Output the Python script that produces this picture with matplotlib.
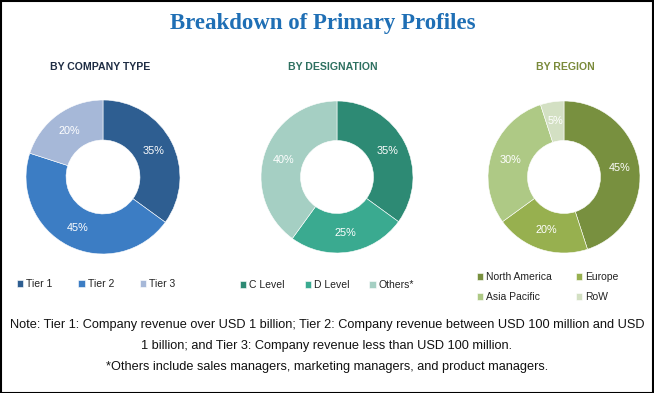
import matplotlib
matplotlib.use("Agg")
import matplotlib.pyplot as plt
from matplotlib.patches import Rectangle

W, H = 654, 393

# data
company_labels = ["Tier 1", "Tier 2", "Tier 3"]
company_values = [35, 45, 20]
company_colors = ["#2E5E91", "#3C7DC4", "#A6B8D8"]

desig_labels = ["C Level", "D Level", "Others*"]
desig_values = [35, 25, 40]
desig_colors = ["#2D8A74", "#3AAA90", "#A5CFC3"]

region_labels = ["North America", "Europe", "Asia Pacific", "RoW"]
region_values = [45, 20, 30, 5]
region_colors = ["#78903F", "#97B04F", "#AEC985", "#D3E0C3"]

notes = [
    "Note: Tier 1: Company revenue over USD 1 billion; Tier 2: Company revenue between USD 100 million and USD",
    "1 billion; and Tier 3: Company revenue less than USD 100 million.",
    "*Others include sales managers, marketing managers, and product managers.",
]

sans = ["Liberation Sans", "DejaVu Sans"]


def fx(x):
    return x / W


def fy(y):
    return 1 - y / H


fig = plt.figure(figsize=(W / 100, H / 100), dpi=100)
fig.patch.set_facecolor("white")

# outer frame
fig.patches.append(Rectangle((0.001, 0.001), 0.997, 0.997, transform=fig.transFigure,
                             fill=False, edgecolor="black", linewidth=1.5))

fig.text(fx(323), fy(23), "Breakdown of Primary Profiles", ha="center", va="center",
         family="Liberation Serif", weight="bold", fontsize=16.5, color="#1F6FB5")


def donut(cx, cy, r, values, colors, title, tcolor, tx):
    ax = fig.add_axes([fx(cx - r), fy(cy + r), 2 * r / W, 2 * r / H])
    wedges, texts, autotexts = ax.pie(values, colors=colors, startangle=90, counterclock=False,
                                      autopct="%d%%", pctdistance=0.74,
                                      wedgeprops=dict(width=0.52, edgecolor="white", linewidth=0.4),
                                      textprops=dict(color="white", fontsize=7.8, family=sans))
    ax.set_xlim(-1, 1)
    ax.set_ylim(-1, 1)
    ax.set_aspect("equal")
    ax.axis("off")
    fig.text(fx(tx), fy(67), title, ha="center", va="center", family=sans,
             weight="bold", fontsize=7.6, color=tcolor)
    return wedges


w1 = donut(103, 177, 77, company_values, company_colors,
           "BY COMPANY TYPE", "#1F2D44", 100)
w2 = donut(337, 177, 76, desig_values, desig_colors,
           "BY DESIGNATION", "#2E7060", 333)
w3 = donut(564, 177, 76, region_values, region_colors,
           "BY REGION", "#7A8A3A", 565)


def legend(handles, labels, x, y, ncol, colsp, rowsp=0.4):
    lg = fig.legend(handles, labels, loc="upper left", bbox_to_anchor=(fx(x), fy(y)),
                    ncol=ncol, frameon=False, handlelength=0.6, handleheight=0.6,
                    handletextpad=0.3, columnspacing=colsp, labelspacing=rowsp,
                    borderaxespad=0, borderpad=0,
                    prop=dict(family=sans, size=7.5))
    for t in lg.get_texts():
        t.set_color("#222222")
    return lg


legend(w1, company_labels, 17, 279, 3, 2.45)
legend(w2, desig_labels, 240, 280, 3, 1.9)
# two columns filled column-wise, so order for row-wise reading
order = [0, 2, 1, 3]
legend([w3[i] for i in order], [region_labels[i] for i in order], 477, 272, 2, 2.25, rowsp=0.95)

for txt, y in zip(notes, [325, 346, 367]):
    fig.text(0.5, fy(y), txt, ha="center", va="center", family=sans,
             fontsize=9.2, color="#111111")

fig.savefig("out.png", dpi=100)
